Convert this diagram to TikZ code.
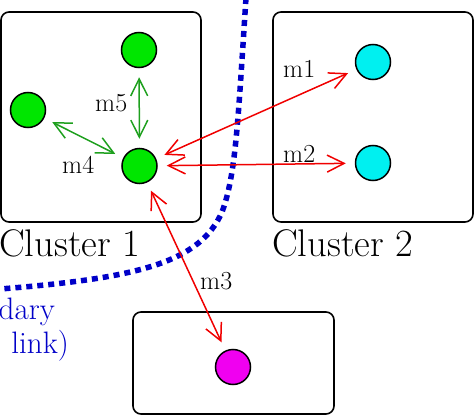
\documentclass[tikz,border=0pt]{standalone}
\usetikzlibrary{arrows.meta,positioning}

\definecolor{memgreen}{RGB}{0,230,0}
\definecolor{memcyan}{RGB}{0,240,240}
\definecolor{memmagenta}{RGB}{240,0,240}
\definecolor{linkgreen}{RGB}{30,160,30}
\definecolor{linkred}{RGB}{240,0,0}
\definecolor{bndblue}{RGB}{0,0,200}

\tikzset{
	member/.style={circle, draw=black, line width=1.5pt, minimum size=35pt, inner sep=0pt},
	cluster/.style={draw=black, line width=1.6pt, rounded corners=8pt, inner sep=0pt},
	locallink/.style={draw=linkgreen, line width=1.5pt, >={Straight Barb[length=17pt, width=17pt]}, <->, shorten <=9pt, shorten >=9pt},
	remotelink/.style={draw=linkred, line width=1.5pt, >={Straight Barb[length=17pt, width=17pt]}, <->, shorten <=9pt, shorten >=9pt},
	msg/.style={font=\fontsize{26}{28}\selectfont, inner sep=0pt, anchor=base west},
	title/.style={font=\fontsize{38.5}{44}\selectfont, inner sep=0pt, anchor=base west},
	bnd/.style={font=\fontsize{31}{34}\selectfont, text=bndblue, inner sep=0pt, anchor=base east}
}

\begin{document}
\begin{tikzpicture}[x=1pt, y=-1pt]
	\useasboundingbox (0,0) rectangle (474,417);

	% clusters
	\node[cluster, minimum width=200pt, minimum height=210pt](c1) at (101,117){};
	\node[cluster, minimum width=200pt, minimum height=210pt](c2) at (373,117){};
	\node[cluster, minimum width=201pt, minimum height=102pt](c3) at (233.5,363){};
	\node[title] at (-1,256){Cluster 1};
	\node[title] at (272,256){Cluster 2};

	% boundary
	\draw[bndblue, line width=5.5pt, dash pattern=on 6pt off 5pt]
		(246,-2) .. controls (238,120) and (236,175) .. (222,212)
		.. controls (200,262) and (140,278) .. (0,289);
	\node[bnd] at (55,319){dary};
	\node[bnd] at (69,353){link)};

	% members
	\node[member, fill=memgreen](top) at (139,50){};
	\node[member, fill=memgreen](left) at (28,110){};
	\node[member, fill=memgreen](hub) at (139.5,166){};
	\node[member, fill=memcyan](far1) at (373,62){};
	\node[member, fill=memcyan](far2) at (373,163){};
	\node[member, fill=memmagenta](far3) at (233,367){};

	% messages
	\draw[locallink] (top) -- (hub);
	\draw[locallink] (left) -- (hub);
	\draw[remotelink] (hub) -- (far1);
	\draw[remotelink] (hub) -- (far2);
	\draw[remotelink] (hub) -- (far3);

	\node[msg] at (283,78){m1};
	\node[msg] at (283,163){m2};
	\node[msg] at (200,289){m3};
	\node[msg] at (62,173){m4};
	\node[msg] at (95,112){m5};
\end{tikzpicture}
\end{document}
